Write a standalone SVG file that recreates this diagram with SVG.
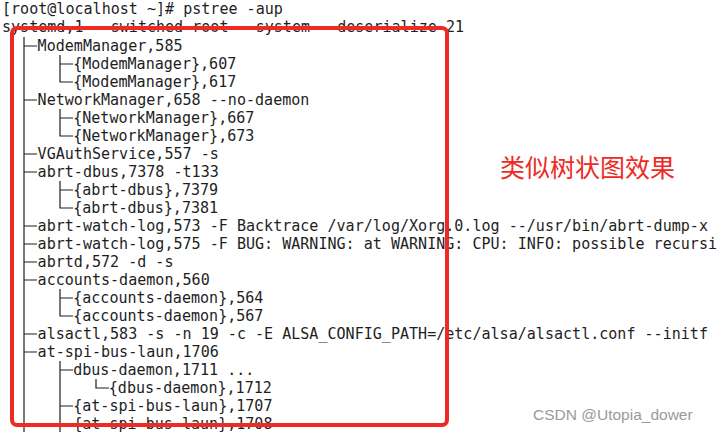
<svg xmlns="http://www.w3.org/2000/svg" width="722" height="432" viewBox="0 0 722 432">
<style>
.t{font-family:"DejaVu Sans Mono","Liberation Mono",monospace;font-size:15.05px;fill:#1e1e1e;white-space:pre}
.l{stroke:#1e1e1e;stroke-width:1.2;fill:none}
</style>
<rect width="722" height="432" fill="#fff"/>
<g id="connectors">
<path class="l" d="M24 37V432M24 46H37M24 100H37M24 154H37M24 172H37M24 226H37M24 244H37M24 262H37M24 280H37M24 334H37M24 352H37"/>
<path class="l" d="M60 55V82H73M60 64H73"/>
<path class="l" d="M60 109V136H73M60 118H73"/>
<path class="l" d="M60 181V208H73M60 190H73"/>
<path class="l" d="M60 289V316H73M60 298H73"/>
<path class="l" d="M60 361V432M60 370H73M60 406H73M60 424H73"/>
<path class="l" d="M96 379V388H109"/>
</g>
<g id="header"><text class="t" x="2" y="14">[root@localhost ~]# pstree -aup</text>
<text class="t" x="2" y="32">systemd,1 --switched-root --system --deserialize 21</text></g>
<g id="level1">
<text class="t" x="37.6" y="51">ModemManager,585</text>
<text class="t" x="37.6" y="105">NetworkManager,658 --no-daemon</text>
<text class="t" x="37.6" y="159">VGAuthService,557 -s</text>
<text class="t" x="37.6" y="177">abrt-dbus,7378 -t133</text>
<text class="t" x="37.6" y="231">abrt-watch-log,573 -F Backtrace /var/log/Xorg.0.log --/usr/bin/abrt-dump-x</text>
<text class="t" x="37.6" y="249">abrt-watch-log,575 -F BUG: WARNING: at WARNING: CPU: INFO: possible recursi</text>
<text class="t" x="37.6" y="267">abrtd,572 -d -s</text>
<text class="t" x="37.6" y="285">accounts-daemon,560</text>
<text class="t" x="37.6" y="339">alsactl,583 -s -n 19 -c -E ALSA_CONFIG_PATH=/etc/alsa/alsactl.conf --initf</text>
<text class="t" x="37.6" y="357">at-spi-bus-laun,1706</text>
</g>
<g id="level2">
<text class="t" x="73.2" y="69">{ModemManager},607</text>
<text class="t" x="73.2" y="87">{ModemManager},617</text>
<text class="t" x="73.2" y="123">{NetworkManager},667</text>
<text class="t" x="73.2" y="141">{NetworkManager},673</text>
<text class="t" x="73.2" y="195">{abrt-dbus},7379</text>
<text class="t" x="73.2" y="213">{abrt-dbus},7381</text>
<text class="t" x="73.2" y="303">{accounts-daemon},564</text>
<text class="t" x="73.2" y="321">{accounts-daemon},567</text>
<text class="t" x="73.2" y="375">dbus-daemon,1711 ...</text>
<text class="t" x="73.2" y="411">{at-spi-bus-laun},1707</text>
<text class="t" x="73.2" y="429">{at-spi-bus-laun},1708</text>
</g>
<g id="level3"><text class="t" x="108.8" y="393">{dbus-daemon},1712</text></g>
<rect x="12" y="28" width="435" height="397" rx="5" fill="none" stroke="#ee2a24" stroke-width="4"/>
<text x="500" y="177" font-family="Noto Sans CJK SC,sans-serif" font-size="25" fill="#ee2a24">类似树状图效果</text>
<text x="533" y="420" font-family="Liberation Sans,sans-serif" font-size="15.5" fill="#9a9a9a">CSDN @Utopia_dower</text>
</svg>
